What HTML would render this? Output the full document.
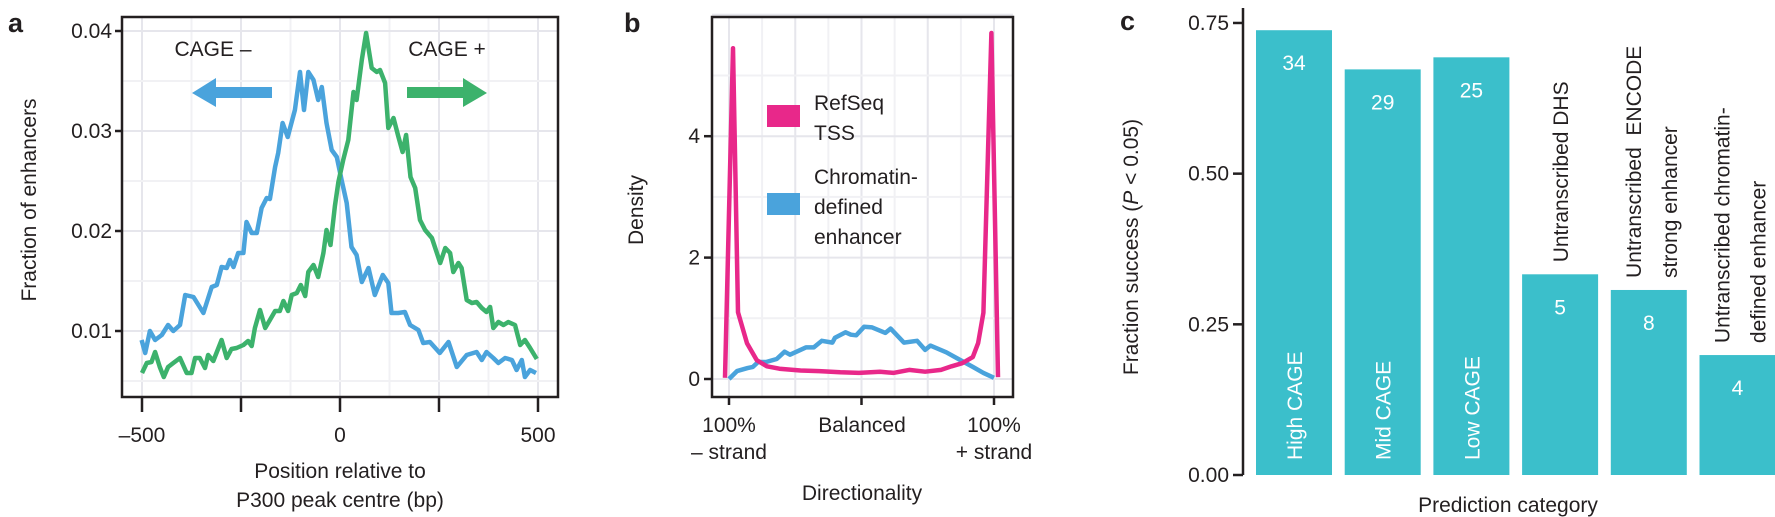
<!DOCTYPE html>
<html><head><meta charset="utf-8">
<style>
html,body{margin:0;padding:0;background:#fff;}
svg{display:block;font-family:"Liberation Sans",Arial,sans-serif;}
</style></head>
<body>
<svg id="fig" width="1775" height="517" viewBox="0 0 1775 517" xmlns="http://www.w3.org/2000/svg">
  <g id="pa"></g>
  <g id="pb"></g>
  <g id="pc"></g>
</svg>
<script>
// ---------- Panel a data ----------
const aBlueX = [-501,-492,-480,-467,-450,-434,-421,-404,-391,-370,-345,-324,-311,-299,-286,-278,-269,-257,-244,-236,-223,-210,-198,-185,-177,-164,-156,-145,-132,-114,-101,-91,-80,-67,-55,-46,-34,-21,-8,4,17,29,42,55,72,88,108,122,130,147,164,177,198,210,227,252,274,295,320,345,358,370,387,400,417,434,446,459,467,480,495];
const aBlueY = [0.0091,0.0078,0.0100,0.0091,0.0096,0.0106,0.0100,0.0106,0.0136,0.0134,0.0118,0.0144,0.0146,0.0164,0.0163,0.0171,0.0164,0.0178,0.0178,0.0209,0.0198,0.0198,0.0223,0.0233,0.0232,0.0264,0.0278,0.0308,0.0294,0.0321,0.0359,0.0321,0.0359,0.0351,0.0331,0.0344,0.0308,0.0281,0.0274,0.0251,0.0228,0.0184,0.0176,0.0149,0.0163,0.0136,0.0156,0.0148,0.0118,0.0118,0.0119,0.0106,0.0101,0.0088,0.0089,0.0078,0.0089,0.0064,0.0076,0.0079,0.0071,0.0079,0.0073,0.0068,0.0073,0.0071,0.0061,0.0071,0.0054,0.0061,0.0058];
const aGreenX = [-500,-488,-476,-467,-455,-445,-434,-421,-404,-387,-375,-366,-354,-341,-333,-320,-299,-286,-274,-261,-244,-232,-223,-215,-202,-189,-177,-164,-152,-143,-131,-122,-109,-99,-88,-80,-67,-55,-42,-34,-24,-13,-4,8,21,34,42,55,66,80,93,101,114,122,135,147,158,167,178,190,202,215,232,253,266,278,286,299,307,320,333,345,358,370,379,387,400,413,425,442,455,467,480,497];
const aGreenY = [0.0058,0.0068,0.0069,0.0079,0.0064,0.0054,0.0064,0.0068,0.0073,0.0058,0.0058,0.0073,0.0073,0.0063,0.0076,0.0070,0.0091,0.0073,0.0082,0.0083,0.0086,0.0090,0.0085,0.0103,0.0121,0.0103,0.0111,0.0120,0.0120,0.0130,0.0120,0.0136,0.0138,0.0146,0.0135,0.0159,0.0166,0.0154,0.0178,0.0201,0.0186,0.0225,0.0249,0.0271,0.0291,0.0339,0.0331,0.0371,0.0398,0.0363,0.0359,0.0361,0.0348,0.0303,0.0313,0.0295,0.0279,0.0296,0.0254,0.0243,0.0211,0.0201,0.0193,0.0168,0.0183,0.0178,0.0159,0.0168,0.0163,0.0131,0.0128,0.0129,0.0123,0.0119,0.0124,0.0103,0.0109,0.0106,0.0109,0.0106,0.0086,0.0091,0.0083,0.0072];
const aXTicks = [-500,0,500];
const aXTickLabels = ["\u2013500","0","500"];
const aYTicks = [0.01,0.02,0.03,0.04];
const aYTickLabels = ["0.01","0.02","0.03","0.04"];

// ---------- Panel b data ----------
const bPinkX = [-0.015,0.015,0.034,0.068,0.105,0.143,0.19,0.27,0.34,0.42,0.49,0.57,0.62,0.68,0.74,0.80,0.84,0.88,0.92,0.94,0.96,0.99,1.015];
const bPinkY = [0.02,5.45,1.1,0.59,0.31,0.21,0.17,0.14,0.13,0.11,0.10,0.12,0.10,0.15,0.12,0.15,0.21,0.26,0.36,0.59,1.09,5.7,0.03];
const bBlueX = [0,0.03,0.07,0.09,0.11,0.14,0.18,0.21,0.23,0.29,0.32,0.35,0.39,0.40,0.44,0.46,0.48,0.51,0.54,0.59,0.61,0.66,0.71,0.74,0.76,0.82,0.87,0.92,0.96,1.0];
const bBlueY = [0,0.13,0.18,0.2,0.28,0.28,0.33,0.45,0.40,0.52,0.52,0.63,0.60,0.68,0.77,0.73,0.72,0.86,0.85,0.76,0.83,0.6,0.63,0.48,0.55,0.44,0.32,0.20,0.10,0.02];
const bYTicks = [0,2,4];
const bYTickLabels = ["0","2","4"];

// ---------- Panel c data ----------
const cCategories = ["High CAGE","Mid CAGE","Low CAGE","Untranscribed DHS","Untranscribed\u00a0 ENCODE|strong enhancer","Untranscribed chromatin-|defined enhancer"];
const cValues = [0.738,0.673,0.693,0.333,0.307,0.199];
const cCounts = ["34","29","25","5","8","4"];
const cYTicks = [0,0.25,0.5,0.75];
const cYTickLabels = ["0.00","0.25","0.50","0.75"];

const NS = "http://www.w3.org/2000/svg";
function mk(parent, tag, attrs, text){
  const e = document.createElementNS(NS, tag);
  for (const k in attrs) e.setAttribute(k, attrs[k]);
  if (text !== undefined) e.textContent = text;
  parent.appendChild(e);
  return e;
}
const INK = "#231f20", GRID = "#e6e6ec", GRIDMINOR = "#f1f1f4";

// ===== Panel A =====
(function(){
  const g = document.getElementById('pa');
  const L=122,R=558,T=17,B=397;
  const ax = v => 340 + v*0.396;
  const ay = v => 31 + (0.04 - v)*10000;
  for (let v=-500; v<=500; v+=125){
    const l = mk(g,'line',{x1:ax(v),x2:ax(v),y1:T,y2:B,stroke:(v%250===0)?GRID:GRIDMINOR,'stroke-width':2});
    
    
  }
  for (let v=0.005; v<0.0451; v+=0.005){
    const major = Math.abs(Math.round(v*1000)%10)===0;
    const l = mk(g,'line',{x1:L,x2:R,y1:ay(v),y2:ay(v),stroke:major?GRID:GRIDMINOR,'stroke-width':2});
    
    
  }
  const pb = aBlueX.map((x,i)=>ax(x).toFixed(1)+','+ay(aBlueY[i]).toFixed(1)).join(' ');
  const lb = mk(g,'polyline',{points:pb,fill:'none',stroke:'#4aa3dc','stroke-width':4.5,'stroke-linejoin':'round'});
  
  
  const pg = aGreenX.map((x,i)=>ax(x).toFixed(1)+','+ay(aGreenY[i]).toFixed(1)).join(' ');
  const lg = mk(g,'polyline',{points:pg,fill:'none',stroke:'#3cb26c','stroke-width':4.5,'stroke-linejoin':'round'});
  
  
  const fr = mk(g,'rect',{x:L,y:T,width:R-L,height:B-T,fill:'none',stroke:INK,'stroke-width':2.5});
  
  
  aXTicks.concat([-250,250]).forEach(v=>{
    const t = mk(g,'line',{x1:ax(v),x2:ax(v),y1:B,y2:B+15,stroke:INK,'stroke-width':2.5});
    
    
  });
  aXTicks.forEach((v,i)=>{
    const t = mk(g,'text',{x:ax(v),y:442,'text-anchor':'middle','font-size':21,fill:INK},aXTickLabels[i]);
    
    
  });
  aYTicks.forEach((v,i)=>{
    const t = mk(g,'line',{x1:L-7,x2:L,y1:ay(v),y2:ay(v),stroke:INK,'stroke-width':2.5});
    
    
    const tl = mk(g,'text',{x:L-10,y:ay(v)+7,'text-anchor':'end','font-size':21,fill:INK},aYTickLabels[i]);
    
    
  });
})();
</script>

<svg style="position:absolute;left:0;top:0" width="1775" height="517">
  <text x="8" y="32" font-size="27" font-weight="bold" fill="#231f20" font-family="Liberation Sans, sans-serif">a</text>
  <text transform="translate(36,200) rotate(-90)" text-anchor="middle" font-size="21" fill="#231f20" font-family="Liberation Sans, sans-serif">Fraction of enhancers</text>
  <text x="340" y="478" text-anchor="middle" font-size="21" fill="#231f20" font-family="Liberation Sans, sans-serif">Position relative to</text>
  <text x="340" y="507" text-anchor="middle" font-size="21" fill="#231f20" font-family="Liberation Sans, sans-serif">P300 peak centre (bp)</text>
  <text x="213" y="56" text-anchor="middle" font-size="21" fill="#231f20" font-family="Liberation Sans, sans-serif">CAGE –</text>
  <text x="447" y="56" text-anchor="middle" font-size="21" fill="#231f20" font-family="Liberation Sans, sans-serif">CAGE +</text>
  <polygon points="192,93 216,78 216,87 272,87 272,98 216,98 216,107" fill="#4aa3dc"/>
  <polygon points="487,93 463,78 463,87 407,87 407,98 463,98 463,107" fill="#3cb26c"/>

  <text x="624" y="32" font-size="27" font-weight="bold" fill="#231f20" font-family="Liberation Sans, sans-serif">b</text>
  <text transform="translate(643,210) rotate(-90)" text-anchor="middle" font-size="21" fill="#231f20" font-family="Liberation Sans, sans-serif">Density</text>
  <rect x="767" y="105" width="33" height="22" fill="#e8288a"/>
  <text x="814" y="110" font-size="21" fill="#231f20" font-family="Liberation Sans, sans-serif"><tspan x="814">RefSeq</tspan><tspan x="814" dy="30">TSS</tspan></text>
  <rect x="767" y="193" width="33" height="22" fill="#4aa3dc"/>
  <text x="814" y="184" font-size="21" fill="#231f20" font-family="Liberation Sans, sans-serif"><tspan x="814">Chromatin-</tspan><tspan x="814" dy="30">defined</tspan><tspan x="814" dy="30">enhancer</tspan></text>
  <text x="729" y="432" text-anchor="middle" font-size="21" fill="#231f20" font-family="Liberation Sans, sans-serif"><tspan x="729">100%</tspan><tspan x="729" dy="27">– strand</tspan></text>
  <text x="862" y="432" text-anchor="middle" font-size="21" fill="#231f20" font-family="Liberation Sans, sans-serif">Balanced</text>
  <text x="994" y="432" text-anchor="middle" font-size="21" fill="#231f20" font-family="Liberation Sans, sans-serif"><tspan x="994">100%</tspan><tspan x="994" dy="27">+ strand</tspan></text>
  <text x="862" y="500" text-anchor="middle" font-size="21" fill="#231f20" font-family="Liberation Sans, sans-serif">Directionality</text>

  <text x="1120" y="30" font-size="27" font-weight="bold" fill="#231f20" font-family="Liberation Sans, sans-serif">c</text>
  <text transform="translate(1138,247) rotate(-90)" text-anchor="middle" font-size="21" fill="#231f20" font-family="Liberation Sans, sans-serif">Fraction success (<tspan font-style="italic">P</tspan> &lt; 0.05)</text>
  <text x="1508" y="512" text-anchor="middle" font-size="21" fill="#231f20" font-family="Liberation Sans, sans-serif">Prediction category</text>
</svg>

<script>
// ===== Panel B =====
(function(){
  const g = document.getElementById('pb');
  const L=712,R=1013,T=17,B=397;
  const bx = v => 729 + v*265;
  const by = v => 379 - v*60.7;
  for (let v=0; v<=1.0001; v+=0.125){
    const l = mk(g,'line',{x1:bx(v),x2:bx(v),y1:T,y2:B,stroke:(Math.round(v*8)%2===0)?GRID:GRIDMINOR,'stroke-width':2});
    
    
  }
  for (let v=0; v<=6; v+=1){
    const l = mk(g,'line',{x1:L,x2:R,y1:by(v),y2:by(v),stroke:(v%2===0)?GRID:GRIDMINOR,'stroke-width':2});
    
    
  }
  const pbl = bBlueX.map((x,i)=>bx(x).toFixed(1)+','+by(bBlueY[i]).toFixed(1)).join(' ');
  const lb = mk(g,'polyline',{points:pbl,fill:'none',stroke:'#4aa3dc','stroke-width':4.5,'stroke-linejoin':'round'});
  
  
  const ppk = bPinkX.map((x,i)=>bx(x).toFixed(1)+','+by(bPinkY[i]).toFixed(1)).join(' ');
  const lp = mk(g,'polyline',{points:ppk,fill:'none',stroke:'#e8288a','stroke-width':4.5,'stroke-linejoin':'round'});
  
  
  const fr = mk(g,'rect',{x:L,y:T,width:R-L,height:B-T,fill:'none',stroke:INK,'stroke-width':2.5});
  
  
  [0,0.5,1].forEach(v=>{
    const t = mk(g,'line',{x1:bx(v),x2:bx(v),y1:B,y2:B+8,stroke:INK,'stroke-width':2.5});
    
    
  });
  bYTicks.forEach((v,i)=>{
    const t = mk(g,'line',{x1:L-8,x2:L,y1:by(v),y2:by(v),stroke:INK,'stroke-width':2.5});
    
    
    const tl = mk(g,'text',{x:L-12,y:by(v)+7,'text-anchor':'end','font-size':21,fill:INK},bYTickLabels[i]);
    
    
  });
})();

// ===== Panel C =====
(function(){
  const g = document.getElementById('pc');
  const AX=1243, B=475;
  const cy = v => 475 - v*602.7;
  const bandX = i => 1256 + i*88.7;
  const bw = 76;
  cCategories.forEach((c,i)=>{
    const x = bandX(i), top = cy(cValues[i]);
    const r = mk(g,'rect',{x:x,y:top,width:bw,height:B-top,fill:'#3bbfcb'});
    
    
    const cx = x + bw/2;
    const n = mk(g,'text',{x:cx,y:top+40,'text-anchor':'middle','font-size':21,fill:'#fff'},cCounts[i]);
    
    
    const parts = c.split('|');
    if (i<3){
      const t = mk(g,'text',{transform:`translate(${cx+8},460) rotate(-90)`,'font-size':21,fill:'#fff'},c);
      
      
    } else {
      const base = top - 12;
      parts.forEach((p,j)=>{
        const lx = parts.length===1 ? cx+8 : cx - 8 + j*36;
        const t = mk(g,'text',{transform:`translate(${lx},${base}) rotate(-90)`,'font-size':21,fill:INK},p);
        
        
      });
    }
  });
  const ax = mk(g,'line',{x1:AX,x2:AX,y1:8,y2:B,stroke:INK,'stroke-width':2.5});
  
  
  cYTicks.forEach((v,i)=>{
    const t = mk(g,'line',{x1:AX-10,x2:AX,y1:cy(v),y2:cy(v),stroke:INK,'stroke-width':2.5});
    
    
    const tl = mk(g,'text',{x:AX-14,y:cy(v)+7,'text-anchor':'end','font-size':21,fill:INK},cYTickLabels[i]);
    
    
  });
})();
</script>
</body></html>
